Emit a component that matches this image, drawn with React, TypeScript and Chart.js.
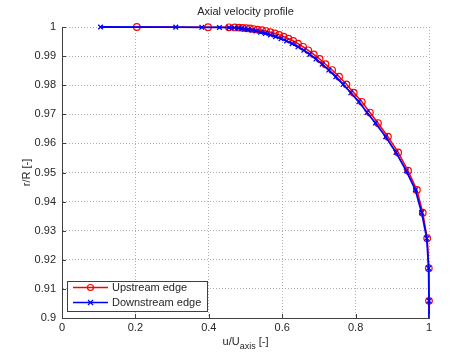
import React, { useEffect, useRef } from 'react';
import { Chart, registerables } from 'chart.js';

Chart.register(...registerables);

// r/R positions shared by both traces
const radialPosition = [
  1.0, 0.99995, 0.9999, 0.99985, 0.9998, 0.9997, 0.9996, 0.9995, 0.9993, 0.9991,
  0.9989, 0.9986, 0.9982, 0.9978, 0.9973, 0.9967, 0.996, 0.9952, 0.9943, 0.9932,
  0.992, 0.9906, 0.989, 0.9872, 0.9852, 0.9829, 0.9803, 0.9774, 0.9743, 0.9706,
  0.967, 0.9623, 0.9569, 0.9506, 0.944, 0.9362, 0.9274, 0.9171, 0.9059, 0.894,
];

// u/U_axis, upstream edge
const upstreamVelocity = [
  0.204, 0.398, 0.455, 0.471, 0.482, 0.492, 0.502, 0.512, 0.522, 0.533,
  0.545, 0.556, 0.568, 0.58, 0.592, 0.604, 0.617, 0.63, 0.643, 0.657,
  0.671, 0.686, 0.702, 0.718, 0.736, 0.755, 0.775, 0.795, 0.817, 0.839,
  0.861, 0.888, 0.916, 0.943, 0.967, 0.983, 0.995, 0.9995, 1.0, 1.0,
];

// u/U_axis, downstream edge
const downstreamVelocity = [
  0.105, 0.31, 0.381, 0.429, 0.455, 0.47, 0.481, 0.49, 0.497, 0.507,
  0.518, 0.529, 0.541, 0.554, 0.568, 0.582, 0.597, 0.612, 0.627, 0.643,
  0.659, 0.675, 0.692, 0.709, 0.727, 0.746, 0.766, 0.787, 0.809, 0.831,
  0.854, 0.882, 0.91, 0.938, 0.963, 0.98, 0.994, 0.999, 1.0, 1.0,
];

const xTickValues = [0, 0.2, 0.4, 0.6, 0.8, 1];
const xTickLabels = ['0', '0.2', '0.4', '0.6', '0.8', '1'];
const yTickValues = [0.9, 0.91, 0.92, 0.93, 0.94, 0.95, 0.96, 0.97, 0.98, 0.99, 1];
const yTickLabels = ['0.9', '0.91', '0.92', '0.93', '0.94', '0.95', '0.96', '0.97', '0.98', '0.99', '1'];

const chartTitle = 'Axial velocity profile';
const seriesNames = ['Upstream edge', 'Downstream edge'];
const xTitleMain = 'u/U';
const xTitleSub = 'axis';
const xTitleEnd = ' [-]';
const yTitle = 'r/R [-]';

const FONT = '"Liberation Sans", Arial, Helvetica, sans-serif';
const TEXT = '#262626';
const AXIS = '#404040';
const RED = '#ff0000';
const BLUE = '#0000ff';

export default function App() {
  const ref = useRef<HTMLCanvasElement | null>(null);

  useEffect(() => {
    document.body.style.margin = '0';
    const canvas = ref.current;
    if (!canvas) return;

    const deco = {
      id: 'deco',
      afterDraw(chart: any) {
        const c: CanvasRenderingContext2D = chart.ctx;
        const a = chart.chartArea;
        const xs = chart.scales.x;
        const ys = chart.scales.y;
        c.save();
        // inward tick marks
        c.strokeStyle = AXIS;
        c.lineWidth = 1;
        c.setLineDash([]);
        c.beginPath();
        xTickValues.forEach((v) => {
          const px = Math.round(xs.getPixelForValue(v)) + 0.5;
          c.moveTo(px, a.bottom);
          c.lineTo(px, a.bottom - 4);
        });
        yTickValues.forEach((v) => {
          const py = Math.round(ys.getPixelForValue(v)) + 0.5;
          c.moveTo(a.left, py);
          c.lineTo(a.left + 4, py);
        });
        c.stroke();

        // title
        c.fillStyle = TEXT;
        c.font = `11px ${FONT}`;
        c.textAlign = 'center';
        c.textBaseline = 'middle';
        c.fillText(chartTitle, (a.left + a.right) / 2, 12);

        // y title
        c.save();
        c.translate(27, (a.top + a.bottom) / 2);
        c.rotate(-Math.PI / 2);
        c.fillText(yTitle, 0, 0);
        c.restore();

        // x title with subscript
        c.textAlign = 'left';
        c.font = `11px ${FONT}`;
        const w1 = c.measureText(xTitleMain).width;
        const w3 = c.measureText(xTitleEnd).width;
        c.font = `9px ${FONT}`;
        const w2 = c.measureText(xTitleSub).width;
        const total = w1 + w2 + w3;
        let x0 = (a.left + a.right) / 2 - total / 2;
        const yT = 342;
        c.font = `11px ${FONT}`;
        c.fillText(xTitleMain, x0, yT);
        c.font = `9px ${FONT}`;
        c.fillText(xTitleSub, x0 + w1, yT + 5);
        c.font = `11px ${FONT}`;
        c.fillText(xTitleEnd, x0 + w1 + w2, yT);

        // legend
        const lx = 67.5, ly = 281.5, lw = 140, lh = 30;
        c.fillStyle = '#ffffff';
        c.fillRect(lx, ly, lw, lh);
        c.strokeStyle = AXIS;
        c.lineWidth = 1;
        c.strokeRect(lx, ly, lw, lh);
        const rows = [
          { y: 287.5, color: RED, name: seriesNames[0], marker: 'o' },
          { y: 302.5, color: BLUE, name: seriesNames[1], marker: 'x' },
        ];
        rows.forEach((r) => {
          c.strokeStyle = r.color;
          c.lineWidth = 1.5;
          c.beginPath();
          c.moveTo(73, r.y);
          c.lineTo(108, r.y);
          c.stroke();
          c.lineWidth = 1.2;
          c.beginPath();
          if (r.marker === 'o') {
            c.arc(90.5, r.y, 3, 0, Math.PI * 2);
          } else {
            c.moveTo(88, r.y - 2.5);
            c.lineTo(93, r.y + 2.5);
            c.moveTo(93, r.y - 2.5);
            c.lineTo(88, r.y + 2.5);
          }
          c.stroke();
          c.fillStyle = TEXT;
          c.font = `11px ${FONT}`;
          c.textAlign = 'left';
          c.textBaseline = 'middle';
          c.fillText(r.name, 112, r.y);
        });
        c.restore();
      },
    };

    const upData = radialPosition.map((r, i) => ({ x: upstreamVelocity[i], y: r }));
    const downData = radialPosition.map((r, i) => ({ x: downstreamVelocity[i], y: r }));

    const chart = new Chart(canvas, {
      type: 'scatter',
      data: {
        datasets: [
          {
            label: seriesNames[0],
            data: upData,
            showLine: true,
            borderColor: RED,
            backgroundColor: 'rgba(0,0,0,0)',
            borderWidth: 1.5,
            pointStyle: 'circle',
            pointRadius: 3.3,
            pointBorderWidth: 1.2,
            pointBorderColor: RED,
            pointBackgroundColor: 'rgba(0,0,0,0)',
            order: 2,
            clip: { left: false, top: false, right: false, bottom: 0 } as any,
          },
          {
            label: seriesNames[1],
            data: downData,
            showLine: true,
            borderColor: BLUE,
            backgroundColor: 'rgba(0,0,0,0)',
            borderWidth: 1.8,
            pointStyle: 'crossRot',
            pointRadius: 3.3,
            pointBorderWidth: 1.3,
            pointBorderColor: BLUE,
            order: 1,
            clip: { left: false, top: false, right: false, bottom: 0 } as any,
          },
        ],
      },
      options: {
        animation: false,
        responsive: false,
        maintainAspectRatio: false,
        events: [],
        layout: { padding: { top: 27, right: 45, left: 0, bottom: 0 } },
        plugins: {
          legend: { display: false },
          title: { display: false },
          tooltip: { enabled: false },
        },
        scales: {
          x: {
            type: 'linear',
            min: 0,
            max: 1,
            afterFit: (s: any) => { s.height = 37; },
            afterBuildTicks: (s: any) => { s.ticks = xTickValues.map((v) => ({ value: v })); },
            ticks: {
              callback: (_v: any, i: number) => xTickLabels[i],
              font: { family: FONT, size: 11 },
              color: TEXT,
              padding: 3,
              maxRotation: 0,
            },
            grid: { color: '#b0b0b0', lineWidth: 1, drawTicks: false },
            border: { display: true, color: AXIS, width: 1, dash: [1, 2] },
          },
          y: {
            type: 'linear',
            min: 0.9,
            max: 1,
            afterFit: (s: any) => { s.width = 62; },
            afterBuildTicks: (s: any) => { s.ticks = yTickValues.map((v) => ({ value: v })); },
            ticks: {
              callback: (_v: any, i: number) => yTickLabels[i],
              font: { family: FONT, size: 11 },
              color: TEXT,
              padding: 6,
            },
            grid: { color: '#b0b0b0', lineWidth: 1, drawTicks: false },
            border: { display: true, color: AXIS, width: 1, dash: [1, 2] },
          },
        },
      },
      plugins: [deco],
    });

    return () => chart.destroy();
  }, []);

  return (
    <div style={{ position: 'absolute', left: 0, top: 0, width: 474, height: 355, background: '#fff' }}>
      <canvas ref={ref} width={474} height={355} style={{ display: 'block' }} />
    </div>
  );
}
